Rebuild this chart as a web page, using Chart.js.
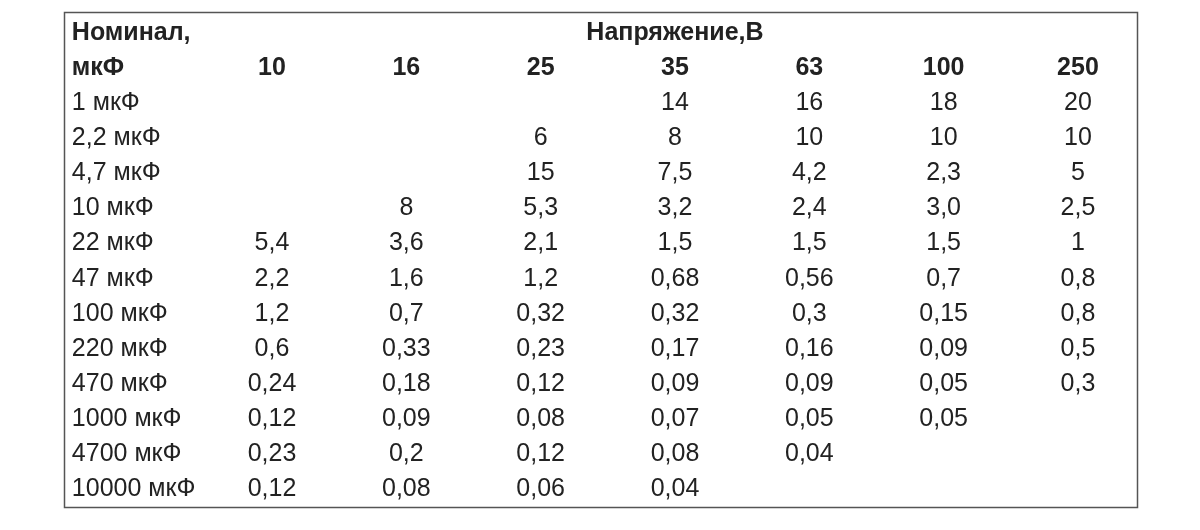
<!DOCTYPE html>
<html><head><meta charset="utf-8">
<script src="https://cdn.jsdelivr.net/npm/chart.js@4"></script>
<style>html,body{margin:0;padding:0;background:#fff}#w{width:1200px;height:530px}</style>
</head><body><div id="w"><canvas id="c"></canvas></div>
<script>
const headerLeft1 = "Номинал,";
const headerLeft2 = "мкФ";
const headerTitle = "Напряжение,В";
const voltages = ["10","16","25","35","63","100","250"];
const capacitances = ["1 мкФ","2,2 мкФ","4,7 мкФ","10 мкФ","22 мкФ","47 мкФ","100 мкФ","220 мкФ","470 мкФ","1000 мкФ","4700 мкФ","10000 мкФ"];
const row1 = [null,null,null,"14","16","18","20"];
const row2_2 = [null,null,"6","8","10","10","10"];
const row4_7 = [null,null,"15","7,5","4,2","2,3","5"];
const row10 = [null,"8","5,3","3,2","2,4","3,0","2,5"];
const row22 = ["5,4","3,6","2,1","1,5","1,5","1,5","1"];
const row47 = ["2,2","1,6","1,2","0,68","0,56","0,7","0,8"];
const row100 = ["1,2","0,7","0,32","0,32","0,3","0,15","0,8"];
const row220 = ["0,6","0,33","0,23","0,17","0,16","0,09","0,5"];
const row470 = ["0,24","0,18","0,12","0,09","0,09","0,05","0,3"];
const row1000 = ["0,12","0,09","0,08","0,07","0,05","0,05",null];
const row4700 = ["0,23","0,2","0,12","0,08","0,04",null,null];
const row10000 = ["0,12","0,08","0,06","0,04",null,null,null];
const rows = [row1,row2_2,row4_7,row10,row22,row47,row100,row220,row470,row1000,row4700,row10000];

const pts = [];
pts.push({x:-0.49,y:0,t:headerLeft1,b:true,a:"left"});
pts.push({x:4.0,y:0,t:headerTitle,b:true,a:"center"});
pts.push({x:-0.49,y:1,t:headerLeft2,b:true,a:"left"});
voltages.forEach((v,i)=>pts.push({x:i+1,y:1,t:v,b:true,a:"center"}));
capacitances.forEach((c,r)=>{
  pts.push({x:-0.49,y:r+2,t:c,b:false,a:"left"});
  rows[r].forEach((v,i)=>{ if(v!==null) pts.push({x:i+1,y:r+2,t:v,b:false,a:"center"}); });
});

const textPlugin = {
  id:'cells',
  afterDatasetsDraw(chart){
    const ctx = chart.ctx;
    const meta = chart.getDatasetMeta(0);
    ctx.save();
    ctx.strokeStyle = "#555"; ctx.lineWidth = 1.5;
    ctx.strokeRect(64.5,12.5,1073,495);
    ctx.fillStyle = "#222";
    ctx.textBaseline = "middle";
    meta.data.forEach((el,i)=>{
      const p = pts[i];
      ctx.font = (p.b?"bold ":"") + "25px 'Liberation Sans', Arial, sans-serif";
      ctx.textAlign = p.a;
      ctx.fillText(p.t, el.x, el.y);
    });
    ctx.restore();
  }
};

const k = 134.33;
const xmin = 1 - 272/k;
const ymin = -33/35.1;
new Chart(document.getElementById('c'), {
  type:'scatter',
  data:{datasets:[{data:pts.map(p=>({x:p.x,y:p.y})),pointRadius:0,pointHoverRadius:0}]},
  options:{
    responsive:true, maintainAspectRatio:false, animation:false,
    layout:{padding:0},
    plugins:{legend:{display:false},tooltip:{enabled:false}},
    scales:{
      x:{type:'linear',display:false,min:xmin,max:xmin+1200/k},
      y:{type:'linear',display:false,reverse:true,min:ymin,max:ymin+530/35.1}
    }
  },
  plugins:[textPlugin]
});
</script></body></html>
